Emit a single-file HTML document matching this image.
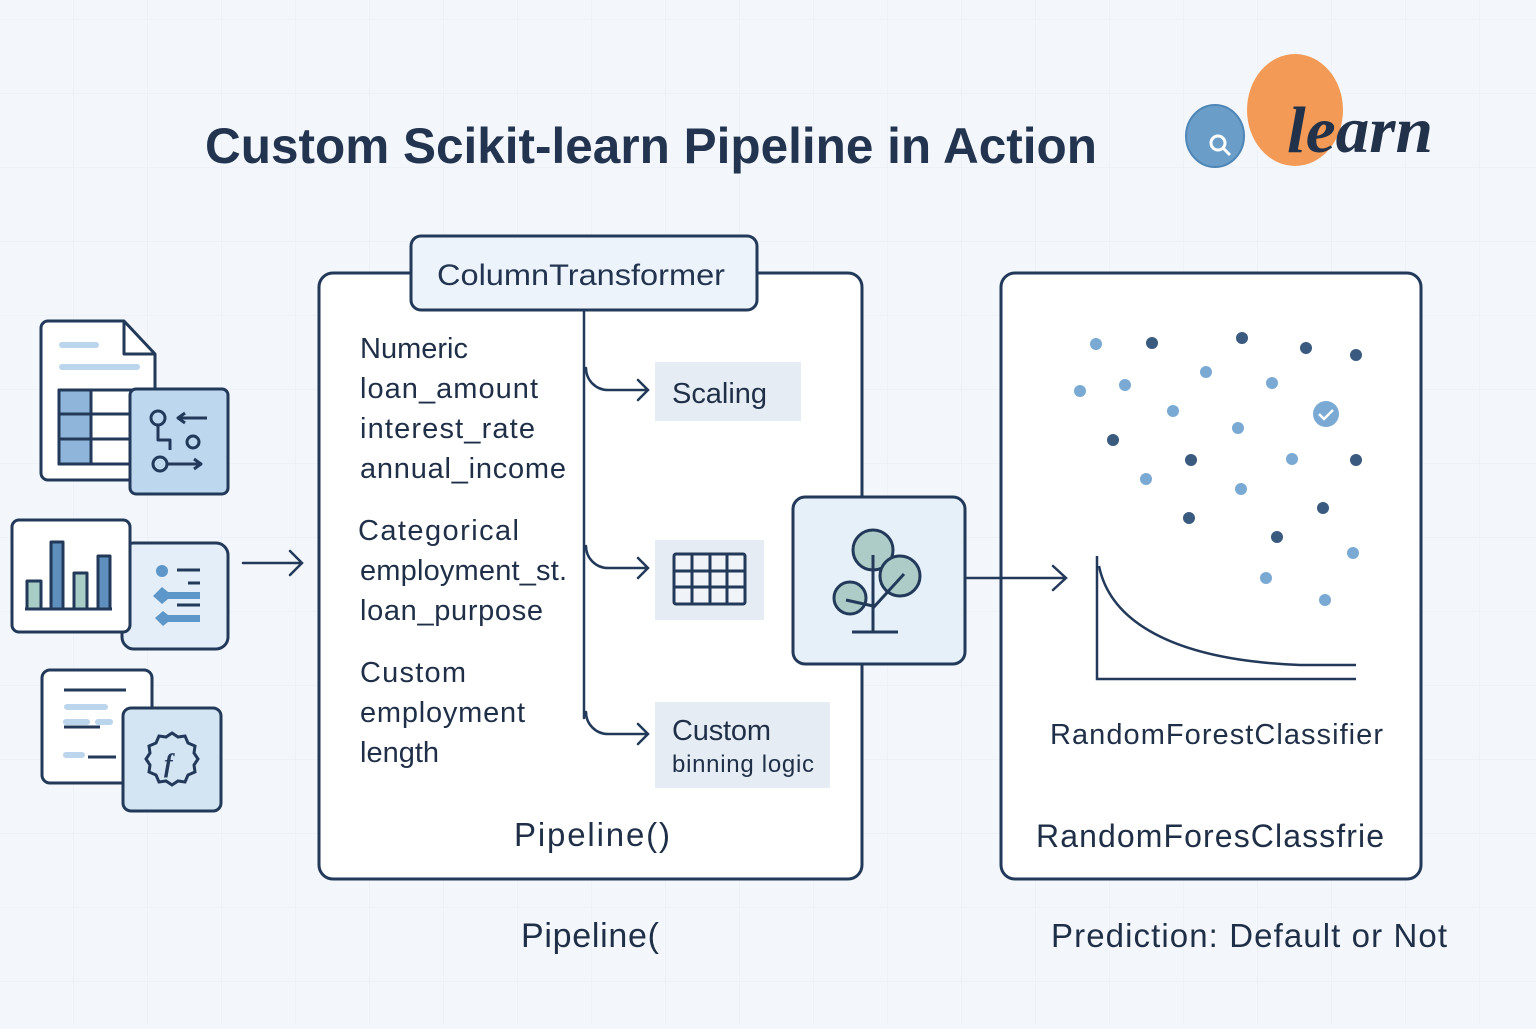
<!DOCTYPE html>
<html><head><meta charset="utf-8"><style>
body{margin:0;width:1536px;height:1024px;overflow:hidden;background:#f3f7fb;font-family:"Liberation Sans","DejaVu Sans",sans-serif;}
</style></head><body>
<svg width="1536" height="1024" viewBox="0 0 1536 1024" xmlns="http://www.w3.org/2000/svg" font-family="Liberation Sans, DejaVu Sans, sans-serif">
<defs><pattern id="g" width="74" height="74" patternUnits="userSpaceOnUse" x="0" y="20"><path d="M74 0V74H0" fill="none" stroke="#e6edf4" stroke-width="1"/></pattern></defs>
<rect width="1536" height="1024" fill="url(#g)"/>
<text x="205" y="163" font-size="50" fill="#22344f" font-weight="bold" textLength="892" lengthAdjust="spacingAndGlyphs">Custom Scikit-learn Pipeline in Action</text>
<!-- logo -->
<ellipse cx="1215" cy="136" rx="29" ry="31" fill="#6a9ec9" stroke="#4f86b8" stroke-width="2"/>
<circle cx="1218" cy="143" r="7" fill="none" stroke="#fff" stroke-width="3"/><line x1="1223" y1="148" x2="1230" y2="155" stroke="#fff" stroke-width="3"/>
<ellipse cx="1295" cy="110" rx="48" ry="56" fill="#f39b56"/>
<text x="1287" y="152" font-size="66" font-style="italic" font-family="Liberation Serif, serif" fill="#22324a" font-weight="bold" textLength="146" lengthAdjust="spacingAndGlyphs">learn</text>
<!-- left icons -->
<g stroke="#22395a" stroke-width="3" stroke-linejoin="round">
<path d="M48 321H124L155 354V480H48a7 7 0 0 1-7-7V328a7 7 0 0 1 7-7z" fill="#fff"/>
<path d="M124 321V354H155" fill="none"/>
<rect x="59" y="390" width="80" height="74" fill="#fff"/>
<rect x="59" y="390" width="32" height="74" fill="#8fb6da"/>
<path d="M59 414H139M59 439H139M91 390V464" fill="none"/>
<rect x="130" y="389" width="98" height="105" rx="6" fill="#bdd8ee"/>
<circle cx="158" cy="418" r="7" fill="none"/><circle cx="193" cy="442" r="6" fill="none"/><circle cx="160" cy="464" r="7" fill="none"/>
<path d="M158 425V440H170V450M167 464H200M194 459L201 464L194 469M207 418H178M185 413L178 418L185 423" fill="none"/>
<rect x="122" y="543" width="106" height="106" rx="12" fill="#e3eef8"/>
<rect x="12" y="520" width="118" height="112" rx="7" fill="#fff"/>
<rect x="27" y="581" width="14" height="28" fill="#a8ccc6"/><rect x="51" y="542" width="12" height="67" fill="#5f8fbc"/><rect x="74" y="573" width="13" height="36" fill="#a8ccc6"/><rect x="98" y="556" width="12" height="53" fill="#5f8fbc"/>
<line x1="25" y1="609" x2="112" y2="609"/>
</g>
<g fill="#5d96c8"><circle cx="162" cy="571" r="6"/><path d="M153 596l9-9 6 5h32v7h-32l-6 5z"/><path d="M155 618l8-7 5 4h32v7h-32l-5 4z"/></g>
<g stroke="#22395a" stroke-width="3"><path d="M177 570H200M188 583H200M177 605H200"/></g>
<g stroke="#22395a" stroke-width="3">
<rect x="42" y="670" width="110" height="113" rx="8" fill="#fff"/>
<path d="M64 690H126M64 727H100M88 757H116"/>
</g>
<g stroke="#bad5ec" stroke-width="6" stroke-linecap="round"><path d="M67 707H105M66 722H87M98 722H110M66 755H82"/><path d="M62 345H96M62 367H137"/></g>
<rect x="123" y="708" width="98" height="103" rx="8" fill="#d3e4f3" stroke="#22395a" stroke-width="3"/>
<path d="M172 733l6 4 7-1 3 7 7 3-1 7 4 6-4 6 1 7-7 3-3 7-7-1-6 4-6-4-7 1-3-7-7-3 1-7-4-6 4-6-1-7 7-3 3-7 7 1z" fill="none" stroke="#22395a" stroke-width="3"/>
<text x="164" y="772" font-size="26" font-style="italic" font-weight="bold" font-family="Liberation Serif, serif" fill="#22395a">f</text>
<g stroke="#22395a" stroke-width="2.5" fill="none" stroke-linecap="round">
<path d="M243 563H302M290 551L302 563L290 575"/>
</g>
<!-- main box -->
<rect x="319" y="273" width="543" height="606" rx="14" fill="#fff" stroke="#22395a" stroke-width="3"/>
<rect x="411" y="236" width="346" height="74" rx="10" fill="#edf3fa" stroke="#22395a" stroke-width="3"/>
<text x="437" y="285" font-size="30" fill="#22344f" textLength="288" lengthAdjust="spacingAndGlyphs">ColumnTransformer</text>
<g font-size="29" fill="#1f2f47">
<text x="360" y="358">Numeric</text><text x="360" y="398" textLength="178">loan_amount</text><text x="360" y="438" textLength="175">interest_rate</text><text x="360" y="478" textLength="206">annual_income</text>
<text x="358" y="540" textLength="161">Categorical</text><text x="360" y="580" textLength="207">employment_st.</text><text x="360" y="620" textLength="183">loan_purpose</text>
<text x="360" y="682" textLength="106">Custom</text><text x="360" y="722" textLength="165">employment</text><text x="360" y="762">length</text>
<text x="514" y="846" font-size="33" textLength="156">Pipeline()</text>
</g>
<g stroke="#22395a" stroke-width="2.5" fill="none" stroke-linecap="round">
<path d="M584 310V718"/>
<path d="M586 368a22 22 0 0 0 22 22H648M638 380L648 390L638 400"/>
<path d="M586 546a22 22 0 0 0 22 22H648M638 558L648 568L638 578"/>
<path d="M586 712a22 22 0 0 0 22 22H648M638 724L648 734L638 744"/>
</g>
<rect x="655" y="362" width="146" height="59" fill="#e6ecf3"/>
<text x="672" y="403" font-size="29" fill="#1f2f47" textLength="95">Scaling</text>
<rect x="655" y="540" width="109" height="80" fill="#e6ecf3"/>
<g stroke="#22395a" stroke-width="3" fill="#f0f4f9"><rect x="674" y="554" width="71" height="50" rx="2"/><path d="M674 571H745M674 587H745M692 554V604M710 554V604M727 554V604" fill="none"/></g>
<rect x="655" y="702" width="175" height="86" fill="#e6ecf3"/>
<text x="672" y="740" font-size="29" fill="#1f2f47" textLength="99">Custom</text>
<text x="672" y="772" font-size="24" fill="#1f2f47" textLength="142">binning logic</text>
<!-- right box -->
<rect x="1001" y="273" width="420" height="606" rx="14" fill="#fff" stroke="#22395a" stroke-width="3"/>
<g stroke="#22395a" stroke-width="2.5" fill="none" stroke-linecap="round">
<path d="M967 578H1065M1053 566L1066 578L1053 590"/>
</g>
<!-- tree box -->
<rect x="793" y="497" width="172" height="167" rx="12" fill="#e6f0f9" stroke="#22395a" stroke-width="3"/>
<g stroke="#22395a" stroke-width="3" fill="#adcbc7">
<circle cx="873" cy="550" r="20"/><circle cx="900" cy="576" r="20"/><circle cx="850" cy="598" r="16"/>
<path d="M873 555V632M852 632H898M873 608L904 574M873 606L846 600" fill="none"/>
</g>
<g fill="#7aaad3">
<circle cx="1096" cy="344" r="6"/><circle cx="1080" cy="391" r="6"/><circle cx="1125" cy="385" r="6"/><circle cx="1206" cy="372" r="6"/><circle cx="1272" cy="383" r="6"/><circle cx="1173" cy="411" r="6"/><circle cx="1238" cy="428" r="6"/><circle cx="1292" cy="459" r="6"/><circle cx="1146" cy="479" r="6"/><circle cx="1241" cy="489" r="6"/><circle cx="1353" cy="553" r="6"/><circle cx="1266" cy="578" r="6"/><circle cx="1325" cy="600" r="6"/>
</g>
<g fill="#3b5a80">
<circle cx="1152" cy="343" r="6"/><circle cx="1242" cy="338" r="6"/><circle cx="1306" cy="348" r="6"/><circle cx="1356" cy="355" r="6"/><circle cx="1113" cy="440" r="6"/><circle cx="1191" cy="460" r="6"/><circle cx="1356" cy="460" r="6"/><circle cx="1323" cy="508" r="6"/><circle cx="1189" cy="518" r="6"/><circle cx="1277" cy="537" r="6"/>
</g>
<circle cx="1326" cy="414" r="13" fill="#7aaad3"/><path d="M1319 414l5 5 9-9" stroke="#fff" stroke-width="2.5" fill="none"/>
<g stroke="#22395a" stroke-width="2.5" fill="none">
<path d="M1097 556V679H1356"/>
<path d="M1099 566C1110 620 1170 660 1300 665H1356"/>
</g>
<text x="1050" y="744" font-size="29" fill="#1f2f47" textLength="333">RandomForestClassifier</text>
<text x="1036" y="847" font-size="32" fill="#1f2f47" textLength="348">RandomForesClassfrie</text>
<text x="521" y="947" font-size="34" fill="#1f2f47" textLength="138">Pipeline(</text>
<text x="1051" y="947" font-size="33" fill="#1f2f47" textLength="396">Prediction: Default or Not</text>
</svg>
</body></html>
